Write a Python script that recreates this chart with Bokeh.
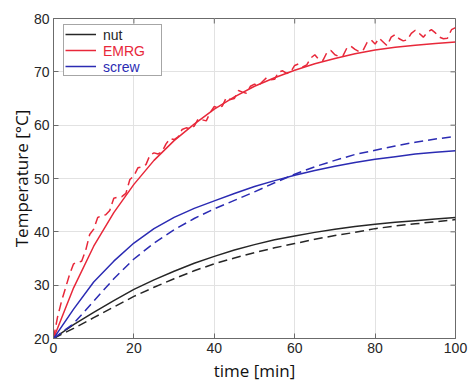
import math
from bokeh.plotting import figure
from bokeh.models import Legend, LegendItem, FixedTicker, Range1d
from bokeh.embed import file_html
from bokeh.resources import INLINE

# ---------------- data ----------------
x_ticks = [0, 20, 40, 60, 80, 100]
y_ticks = [20, 30, 40, 50, 60, 70, 80]
x_min, x_max = 0, 100
y_min, y_max = 20, 80

fit_time = [0, 5, 10, 15, 20, 25, 30, 35, 40, 45, 50, 55, 60, 65, 70, 75, 80, 85, 90, 95, 100]

nut_fit = [20, 22.6, 24.9, 27.1, 29.2, 31.0, 32.6, 34.1, 35.4, 36.6, 37.6, 38.5, 39.2, 39.9,
           40.5, 41.0, 41.4, 41.8, 42.1, 42.4, 42.7]
nut_meas = [20, 21.9, 23.9, 25.9, 27.9, 29.6, 31.2, 32.7, 34.0, 35.1, 36.1, 37.0, 37.8, 38.6,
            39.3, 39.9, 40.6, 41.1, 41.5, 41.9, 42.3]

screw_fit = [20, 25.5, 30.6, 34.5, 37.9, 40.6, 42.7, 44.4, 45.8, 47.2, 48.5, 49.6, 50.6, 51.5,
             52.3, 53.0, 53.6, 54.1, 54.6, 54.9, 55.2]
screw_meas = [20, 22.8, 27.0, 31.2, 34.9, 37.9, 40.4, 42.5, 44.3, 45.9, 47.5, 49.2, 50.8, 52.2,
              53.4, 54.5, 55.3, 56.1, 56.8, 57.4, 57.9]

emrg_fit = [20, 29.5, 37.3, 43.6, 48.9, 53.4, 57.1, 60.2, 63.0, 65.3, 67.3, 68.9, 70.3, 71.5,
            72.5, 73.4, 74.1, 74.6, 75.0, 75.3, 75.6]

emrg_meas_time = list(range(0, 101))
emrg_meas = [20, 24, 27, 29.5, 32, 34, 34.3, 34.5, 36.5, 39.5,
             40.5, 42.7, 43, 43.2, 44, 46.3, 46.5, 46.6, 47.2, 49.8,
             50.5, 52, 52.2, 52.6, 54.4, 54.8, 54.6, 55, 56.5, 57.5,
             57.3, 57.8, 59.2, 59.5, 59.3, 59.8, 61.2, 61, 60.8, 62.4,
             63.5, 63.2, 63.6, 65.2, 64.8, 65, 66.5, 66.2, 66, 67.3,
             67.7, 67.4, 68.2, 68.9, 68.5, 68.6, 70, 70.2, 69.7, 70,
             71.2, 71.5, 70.9, 71.3, 72.6, 73.2, 72.3, 72.1, 73.6, 74,
             73.2, 72.9, 73, 74.5, 74.8, 74.2, 73.8, 74, 75.5, 76,
             75.2, 76.3, 75.6, 74.9, 76.5, 77, 76.2, 75.8, 76, 77.2,
             77.8, 77.2, 76.5, 77.4, 77.9, 77.3, 76.5, 76.2, 76.3, 77.9,
             78.3]

labels = ["nut", "EMRG", "screw"]
c_black = "#262626"
c_red = "#e8283a"
c_blue = "#2b2bb3"
axis_col = "#6b6b6b"

# ---------------- figure ----------------
p = figure(width=474, height=386, x_range=Range1d(x_min, x_max), y_range=Range1d(y_min, y_max),
           output_backend="svg", toolbar_location=None,
           min_border_left=53, min_border_right=19, min_border_top=18, min_border_bottom=48)
p.background_fill_color = "white"
p.border_fill_color = "white"
p.outline_line_color = axis_col
p.outline_line_width = 1

lw = 1.5
dash = "9 5"
r_nut = p.line(fit_time, nut_fit, line_color=c_black, line_width=lw)
p.line(fit_time, nut_meas, line_color=c_black, line_width=lw, line_dash=dash)
r_emrg = p.line(fit_time, emrg_fit, line_color=c_red, line_width=lw)
p.line(emrg_meas_time, emrg_meas, line_color=c_red, line_width=lw, line_dash=dash)
r_screw = p.line(fit_time, screw_fit, line_color=c_blue, line_width=lw)
p.line(fit_time, screw_meas, line_color=c_blue, line_width=lw, line_dash=dash)

# mirrored inward ticks on top and right edges
p.ray(x=x_ticks, y=[y_max] * len(x_ticks), length=5, length_units="screen",
      angle=-math.pi / 2, line_color=axis_col, line_width=1)
p.ray(x=[x_max] * len(y_ticks), y=y_ticks, length=5, length_units="screen",
      angle=math.pi, line_color=axis_col, line_width=1)

# axes
for ax, ticks in ((p.xaxis[0], x_ticks), (p.yaxis[0], y_ticks)):
    ax.ticker = FixedTicker(ticks=ticks)
    ax.major_tick_in = 5
    ax.major_tick_out = 0
    ax.minor_tick_line_color = None
    ax.axis_line_color = axis_col
    ax.major_tick_line_color = axis_col
    ax.major_label_text_font = "Liberation Sans"
    ax.major_label_text_font_size = "14px"
    ax.major_label_text_color = "#262626"
    ax.major_label_standoff = 4
    ax.axis_label_text_font = "Open Sans"
    ax.axis_label_text_font_size = "17px"
    ax.axis_label_text_font_style = "normal"
    ax.axis_label_text_color = "#111111"

p.xaxis.axis_label = "time [min]"
p.yaxis.axis_label = "Temperature [°C]"
p.xaxis.axis_label_standoff = 3
p.yaxis.axis_label_standoff = -2

p.xgrid.ticker = FixedTicker(ticks=x_ticks)
p.ygrid.ticker = FixedTicker(ticks=y_ticks)
p.grid.grid_line_color = "#e2e2e2"
p.grid.grid_line_width = 1

# legend: boxed legend with sample lines (labels hidden) + overlay legend per item
# carrying the coloured label text (its own glyph sample is invisible)
renderers = [r_nut, r_emrg, r_screw]
colors = [c_black, c_red, c_blue]
text_proxies = [p.line([], [], line_color=c, line_alpha=0) for c in colors]

pad, row_h, leg_x, leg_y = 1, 16, 10, 262
common = dict(margin=0, padding=pad, spacing=0, glyph_width=31, glyph_height=row_h,
              label_height=row_h, label_width=56, label_standoff=8,
              label_text_font="Liberation Sans", label_text_font_size="14px")

box_legend = Legend(items=[LegendItem(label=l, renderers=[r]) for l, r in zip(labels, renderers)],
                    location=(leg_x, leg_y), label_text_alpha=0,
                    border_line_color="#4d4d4d", border_line_width=1,
                    background_fill_color="white", background_fill_alpha=1, **common)
p.add_layout(box_legend)

n = len(labels)
for i, (l, r, c) in enumerate(zip(labels, text_proxies, colors)):
    lg = Legend(items=[LegendItem(label=l, renderers=[r])],
                location=(leg_x, leg_y + (n - 1 - i) * row_h),
                label_text_color=c, border_line_alpha=0, background_fill_alpha=0, **common)
    p.add_layout(lg)

open("out.html", "w").write(file_html(p, INLINE))
